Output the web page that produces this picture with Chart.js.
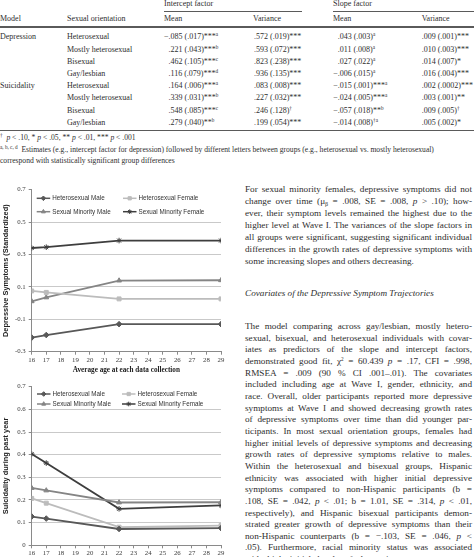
<!DOCTYPE html>
<html>
<head>
<meta charset="utf-8">
<script src="https://cdn.jsdelivr.net/npm/chart.js@4.4.1/dist/chart.umd.min.js"></script>
<style>
html, body { margin: 0; padding: 0; background: #fff; }
body { width: 474px; height: 557px; overflow: hidden; position: relative; font-family: "Liberation Serif", serif; color: #2e2e2e; }
.t { position: absolute; font-size: 8px; line-height: 10px; white-space: nowrap; }
.fn { position: absolute; font-size: 7.6px; line-height: 10px; white-space: nowrap; left: 0; }
sup { font-size: 5.2px; vertical-align: 3px; line-height: 0; }
sub { font-size: 6px; vertical-align: -2px; line-height: 0; }
.rule { position: absolute; height: 0; border-top: 1px solid #5a5a5a; }
.para { position: absolute; left: 245px; width: 227px; font-size: 9.2px; }
.para div { text-align: justify; text-align-last: justify; white-space: nowrap; }
.para div.end { text-align-last: left; }
canvas { position: absolute; }
</style>
</head>
<body>
<canvas id="dep" width="238" height="198" style="left:0;top:180px;width:238px;height:198px"></canvas>
<canvas id="sui" width="238" height="200" style="left:0;top:378px;width:238px;height:200px"></canvas>

<div class="t" style="left:164px;top:-1px">Intercept factor</div>
<div class="t" style="left:333px;top:-1px">Slope factor</div>
<div class="rule" style="left:164px;width:138px;top:11px"></div>
<div class="rule" style="left:333px;width:141px;top:11px"></div>
<div class="t" style="left:0;top:14px">Model</div>
<div class="t" style="left:67px;top:14px">Sexual orientation</div>
<div class="t" style="left:164px;top:14px">Mean</div>
<div class="t" style="left:253px;top:14px">Variance</div>
<div class="t" style="left:333px;top:14px">Mean</div>
<div class="t" style="left:421.7px;top:14px">Variance</div>
<div class="rule" style="left:0;width:474px;top:26px;border-top-width:2px"></div>
<div id="rows"></div>
<div class="rule" style="left:0;width:474px;top:130px;border-top-width:1.5px"></div>
<div class="fn" style="top:132.5px"><sup>†</sup>&nbsp; <i>p</i> &lt; .10, * <i>p</i> &lt; .05, ** <i>p</i> &lt; .01, *** <i>p</i> &lt; .001</div>
<div class="fn" style="top:144.5px"><sup>a, b, c, d</sup>&nbsp; Estimates (e.g., intercept factor for depression) followed by different letters between groups (e.g., heterosexual vs. mostly heterosexual)</div>
<div class="fn" style="top:155.5px">correspond with statistically significant group differences</div>

<div class="para" style="top:184px;line-height:11.95px">
<div>For sexual minority females, depressive symptoms did not</div>
<div>change over time (μ<sub>β</sub> = .008, SE = .008, <i>p</i> &gt; .10); how-</div>
<div>ever, their symptom levels remained the highest due to the</div>
<div>higher level at Wave I. The variances of the slope factors in</div>
<div>all groups were significant, suggesting significant individual</div>
<div>differences in the growth rates of depressive symptoms with</div>
<div class="end">some increasing slopes and others decreasing.</div>
</div>

<div class="para" style="top:287px;line-height:12px">
<div class="end"><i>Covariates of the Depressive Symptom Trajectories</i></div>
</div>

<div class="para" style="top:321px;line-height:11.65px">
<div>The model comparing across gay/lesbian, mostly hetero-</div>
<div>sexual, bisexual, and heterosexual individuals with covar-</div>
<div>iates as predictors of the slope and intercept factors,</div>
<div>demonstrated good fit, χ<sup>2</sup> = 60.439 <i>p</i> = .17, CFI = .998,</div>
<div>RMSEA = .009 (90 % CI .001–.01). The covariates</div>
<div>included including age at Wave I, gender, ethnicity, and</div>
<div>race. Overall, older participants reported more depressive</div>
<div>symptoms at Wave I and showed decreasing growth rates</div>
<div>of depressive symptoms over time than did younger par-</div>
<div>ticipants. In most sexual orientation groups, females had</div>
<div>higher initial levels of depressive symptoms and decreasing</div>
<div>growth rates of depressive symptoms relative to males.</div>
<div>Within the heterosexual and bisexual groups, Hispanic</div>
<div>ethnicity was associated with higher initial depressive</div>
<div>symptoms compared to non-Hispanic participants (b =</div>
<div>.108, SE = .042, <i>p</i> &lt; .01; b = 1.01, SE = .314, <i>p</i> &lt; .01,</div>
<div>respectively), and Hispanic bisexual participants demon-</div>
<div>strated greater growth of depressive symptoms than their</div>
<div>non-Hispanic counterparts (b = −.103, SE = .046, <i>p</i> &lt;</div>
<div>.05). Furthermore, racial minority status was associated</div>
<div>with high initial levels of depressive symptoms among</div>
</div>

<script>
// chart data
const ages = [16, 17, 22, 29];
const seriesNames = ["Heterosexual Male", "Heterosexual Female", "Sexual Minority Male", "Sexual Minority Female"];

const depHetMale = [-0.213, -0.197, -0.130, -0.130];
const depHetFemale = [0.075, 0.066, 0.026, 0.026];
const depMinMale = [0.011, 0.035, 0.139, 0.141];
const depMinFemale = [0.340, 0.345, 0.386, 0.386];

const suiHetMale = [0.127, 0.118, 0.072, 0.076];
const suiHetFemale = [0.207, 0.186, 0.080, 0.087];
const suiMinMale = [0.253, 0.242, 0.189, 0.190];
const suiMinFemale = [0.403, 0.363, 0.161, 0.176];

const depTicks = [-0.3, -0.1, 0.1, 0.3, 0.5, 0.7];
const suiTicks = [0, 0.1, 0.2, 0.3, 0.4, 0.5, 0.6, 0.7];

// table rows
const tableRows = [
    ["Depression", "Heterosexual", "−.085 (.017)***<sup>a</sup>", ".572 (.019)***", ".043 (.003)<sup>a</sup>", ".009 (.001)***"],
    ["", "Mostly heterosexual", ".221 (.043)***<sup>b</sup>", ".593 (.072)***", ".011 (.008)<sup>a</sup>", ".010 (.003)***"],
    ["", "Bisexual", ".462 (.105)***<sup>c</sup>", ".823 (.238)***", ".027 (.022)<sup>a</sup>", ".014 (.007)*"],
    ["", "Gay/lesbian", ".116 (.079)***<sup>d</sup>", ".936 (.135)***", "−.006 (.015)<sup>a</sup>", ".016 (.004)***"],
    ["Suicidality", "Heterosexual", ".164 (.006)***<sup>a</sup>", ".083 (.008)***", "−.015 (.001)***<sup>a</sup>", ".002 (.0002)***"],
    ["", "Mostly heterosexual", ".339 (.031)***<sup>b</sup>", ".227 (.032)***", "−.024 (.005)***<sup>a</sup>", ".003 (.001)**"],
    ["", "Bisexual", ".548 (.085)***<sup>c</sup>", ".246 (.128)<sup>†</sup>", "−.057 (.018)**<sup>b</sup>", ".009 (.005)<sup>†</sup>"],
    ["", "Gay/lesbian", ".279 (.040)**<sup>b</sup>", ".199 (.054)***", "−.014 (.008)<sup>†a</sup>", ".005 (.002)*"],
];
const colX = [0, 67, 168.5, 254, 337.7, 421.7];

const rowsDiv = document.querySelector("#rows");
tableRows.forEach((row, r) => {
    row.forEach((cell, k) => {
        if (!cell) return;
        const d = document.createElement("div");
        d.className = "t";
        let x = colX[k];
        if (cell.startsWith("−")) x -= 4.5;
        d.style.left = x + "px";
        d.style.top = (32.3 + r * 12.2) + "px";
        d.innerHTML = cell;
        rowsDiv.appendChild(d);
    });
});

const colors = ["#585858", "#bcbcbc", "#858585", "#3e3e3e"];
const markers = ["rectRot", "rect", "triangle", "star"];

function fmtTick(v) {
    return Math.abs(v) < 1e-9 ? "0" : v.toFixed(1);
}

// legend inside the plot (two columns) and the y tick labels
const insideLegend = {
    id: "insideLegend",
    afterDraw(chart, args, opts) {
        const { ctx, chartArea } = chart;
        const ys = chart.scales.y;
        ctx.save();
        ctx.font = "6.8px 'Liberation Serif'";
        ctx.textBaseline = "middle";
        ctx.textAlign = "right";
        ctx.fillStyle = "#3a3a3a";
        ys.ticks.forEach((t) => {
            ctx.fillText(fmtTick(t.value), ys.right - 6, ys.getPixelForValue(t.value));
        });
        ctx.restore();

        chart.data.datasets.forEach((ds, i) => {
            const x = chartArea.left + opts.colX[i % 2];
            const y = chartArea.top + opts.rowY[Math.floor(i / 2)];
            ctx.save();
            ctx.strokeStyle = ds.borderColor;
            ctx.fillStyle = ds.pointBackgroundColor;
            ctx.lineWidth = 1.5;
            ctx.beginPath();
            ctx.moveTo(x, y);
            ctx.lineTo(x + 13.5, y);
            ctx.stroke();
            ctx.lineWidth = 1;
            Chart.helpers.drawPoint(ctx, { pointStyle: ds.pointStyle, radius: 2.3, borderWidth: 1, rotation: 0 }, x + 6.7, y);
            ctx.restore();
            ctx.save();
            ctx.font = "6.3px 'Liberation Sans'";
            ctx.textBaseline = "middle";
            ctx.textAlign = "left";
            ctx.fillStyle = "#333";
            ctx.fillText(ds.label, x + 15.5, y + 0.3);
            ctx.restore();
        });
    },
};

function makeDatasets(seriesList) {
    return seriesList.map((values, i) => ({
        label: seriesNames[i],
        data: values.map((v, j) => ({ x: ages[j], y: v })),
        borderColor: colors[i],
        backgroundColor: colors[i],
        pointBackgroundColor: colors[i],
        pointBorderColor: colors[i],
        pointStyle: markers[i],
        pointRadius: 2.8,
        pointBorderWidth: 1,
        borderWidth: 1.8,
        tension: 0,
    }));
}

function makeChart(id, seriesList, yTicks, yTitle, frame) {
    const yMin = yTicks[0];
    const yMax = yTicks[yTicks.length - 1];
    const step = Math.round((yTicks[1] - yTicks[0]) * 10) / 10;
    return new Chart(document.getElementById(id), {
        type: "line",
        data: { datasets: makeDatasets(seriesList) },
        options: {
            responsive: false,
            animation: false,
            layout: { padding: { top: frame.top, right: 17, left: 0, bottom: 0 } },
            plugins: {
                legend: { display: false },
                tooltip: { enabled: false },
                insideLegend: { colX: frame.legendX, rowY: frame.legendY },
            },
            scales: {
                x: {
                    type: "linear",
                    min: 16,
                    max: 29,
                    ticks: { stepSize: 1, padding: 1, color: "#3a3a3a", font: { family: "Liberation Serif", size: 6.8 }, maxRotation: 0 },
                    grid: { drawOnChartArea: false, drawTicks: true, tickLength: 3, tickColor: "#8a8a8a" },
                    border: { color: "#8a8a8a", width: 1 },
                    title: {
                        display: true,
                        text: "Average age at each data collection",
                        color: "#222",
                        font: { family: "Liberation Serif", size: 7.2, weight: "bold" },
                        padding: { top: 0, bottom: 3.5 },
                    },
                    afterFit: (s) => { s.height = frame.xHeight; },
                },
                y: {
                    min: yMin,
                    max: yMax,
                    ticks: { display: false, stepSize: step, callback: fmtTick },
                    grid: {
                        color: (c) => (c.tick && Math.abs(c.tick.value - yMax) < 1e-9 ? "rgba(0,0,0,0)" : "#c9c9c9"),
                        lineWidth: 1,
                        drawTicks: true,
                        tickLength: 3,
                        tickColor: "#8a8a8a",
                    },
                    border: { color: "#8a8a8a", width: 1 },
                    title: {
                        display: true,
                        text: yTitle,
                        color: "#222",
                        font: { family: "Liberation Sans", size: 7.4, weight: "bold" },
                        padding: { top: 1.5, bottom: 0 },
                    },
                    afterFit: (s) => { s.width = 31.7; },
                },
            },
        },
        plugins: [insideLegend],
    });
}

makeChart("dep", [depHetMale, depHetFemale, depMinMale, depMinFemale], depTicks,
    "Depressive Symptoms (Standardized)",
    { top: 9.7, xHeight: 26.3, legendX: [5, 91.3], legendY: [8.6, 22] });

makeChart("sui", [suiHetMale, suiHetFemale, suiMinMale, suiMinFemale], suiTicks,
    "Suicidality during past year",
    { top: 8.7, xHeight: 32.7, legendX: [5.3, 90.3], legendY: [7.3, 17.3] });
</script>
</body>
</html>
